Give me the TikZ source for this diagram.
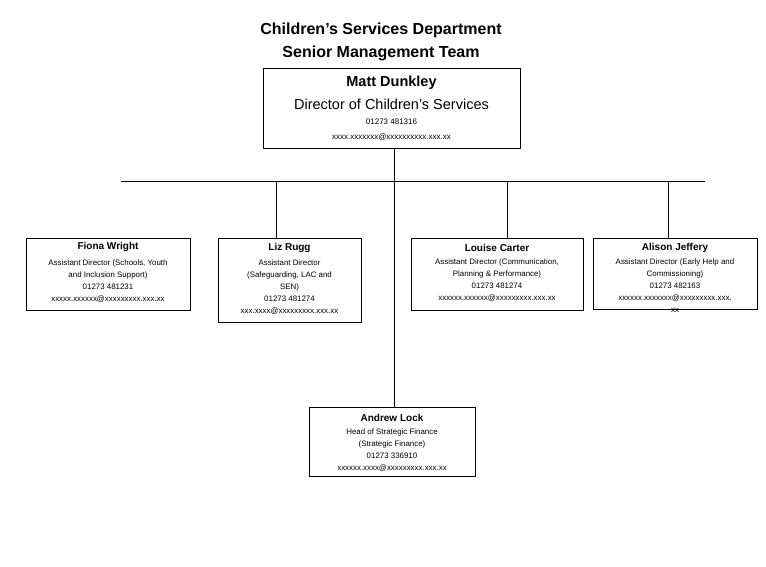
\documentclass[tikz,border=0pt]{standalone}
\usepackage{fontspec}
\setmainfont{Liberation Sans}
\begin{document}
\begin{tikzpicture}[x=1pt,y=-1pt,
 box/.style={draw,thick,fill=white},
 nm/.style={font=\bfseries\fontsize{10}{11}\selectfont},
 sm/.style={font=\fontsize{7.9}{12}\selectfont,align=center},
 ln/.style={draw,thin}]
\useasboundingbox (0,0) rectangle (766,567);
\node[font=\bfseries\fontsize{16}{23}\selectfont,align=center] (title) at (381,42) {Children’s Services Department\\Senior Management Team};
\draw[box] (263,68) rectangle (520,148);
\node[font=\bfseries\fontsize{14.5}{16}\selectfont] (dn) at (391.5,83) {Matt Dunkley};
\node[font=\fontsize{14.5}{16}\selectfont] (dt) at (391.5,104) {Director of Children’s Services};
\node[sm,font=\fontsize{8}{15}\selectfont] (dc) at (391.5,130) {01273 481316\\xxxx.xxxxxxx@xxxxxxxxxx.xxx.xx};
\coordinate (jt) at (394,181);
\coordinate (jl) at (121,181);
\coordinate (jr) at (705,181);
\draw[ln] (394,148) -- (jt);
\draw[ln] (jl) -- (jr);
\draw[box] (26,238) rectangle (190,310);
\node[nm] (fn) at (108,247) {Fiona Wright};
\node[sm] (fd) at (108,281) {Assistant Director (Schools, Youth\\and Inclusion Support)\\01273 481231\\xxxxx.xxxxxx@xxxxxxxxx.xxx.xx};
\draw[box] (218,238) rectangle (361,322);
\node[nm] (ln1) at (289.5,248) {Liz Rugg};
\node[sm] (ld) at (289.5,287) {Assistant Director\\(Safeguarding, LAC and\\SEN)\\01273 481274\\xxx.xxxx@xxxxxxxxx.xxx.xx};
\draw[box] (411,238) rectangle (583,310);
\node[nm] (lcn) at (497,248) {Louise Carter};
\node[sm] (lcd) at (497,280) {Assistant Director (Communication,\\Planning \& Performance)\\01273 481274\\xxxxxx.xxxxxx@xxxxxxxxx.xxx.xx};
\draw[box] (593,238) rectangle (757,309);
\node[nm] (an) at (675,248) {Alison Jeffery};
\node[sm] (ad) at (675,286) {Assistant Director (Early Help and\\Commissioning)\\01273 482163\\xxxxxx.xxxxxxx@xxxxxxxxx.xxx.\\xx};
\draw[box] (309,407) rectangle (475,476);
\node[nm] (aln) at (392,418) {Andrew Lock};
\node[sm] (ald) at (392,450) {Head of Strategic Finance\\(Strategic Finance)\\01273 336910\\xxxxxx.xxxx@xxxxxxxxx.xxx.xx};
\draw[ln] (276,181) -- (276,238);
\draw[ln] (507,181) -- (507,238);
\draw[ln] (668,181) -- (668,238);
\draw[ln] (jt) -- (394,407);
\end{tikzpicture}
\end{document}
